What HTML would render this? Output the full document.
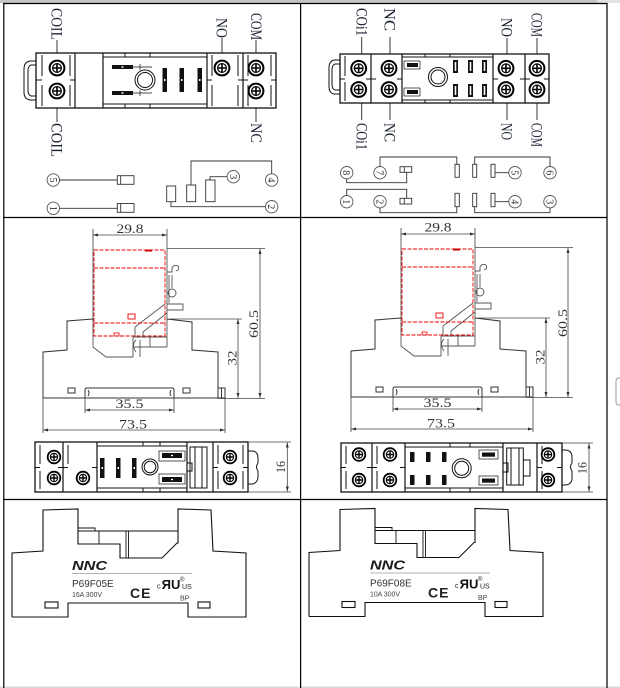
<!DOCTYPE html>
<html><head><meta charset="utf-8">
<style>
html,body{margin:0;padding:0;background:#fff;}
svg{display:block;}
text{font-family:"Liberation Serif",serif;}
.sn{font-family:"Liberation Sans",sans-serif;}
</style></head><body>
<svg width="620" height="688" viewBox="0 0 620 688" xmlns="http://www.w3.org/2000/svg">
<defs>
<marker id="ar" viewBox="0 0 10 6" refX="10" refY="3" markerWidth="7" markerHeight="3" orient="auto-start-reverse" markerUnits="userSpaceOnUse"><path d="M0 0L10 3L0 6z" fill="#333"/></marker>
<g id="s1"><circle r="7.4" fill="#fff" stroke="#000" stroke-width="2"/><circle r="4.4" fill="none" stroke="#000" stroke-width="1.2"/><path d="M-4 0H4M0 -4V4" stroke="#000" stroke-width="1.6"/></g>
<g id="s2"><circle r="6.3" fill="#fff" stroke="#000" stroke-width="1.8"/><circle r="3.7" fill="none" stroke="#000" stroke-width="1.1"/><path d="M-3.4 0H3.4M0 -3.4V3.4" stroke="#000" stroke-width="1.4"/></g>

<g id="sv" fill="none">
 <g stroke="#555" stroke-width="0.9">
  <path d="M93 229 V347 L106 357 H133"/>
  <path d="M167 229 V347"/>
  <path d="M133 337 H167 M150 337 V347 M133 347 H167 M133 337 V357"/>
  <path d="M167 272 H172 V268 Q174 264 178 266 Q180 270 176 271"/>
  <path d="M169 275 V303 M172 275 V288"/>
  <circle cx="172" cy="293" r="4"/>
  <path d="M167 304 H183 V310 H167"/>
  <path d="M135 327 L165 304 M143 332 L167 313 M135 327 V337 M143 332 V337"/>
  <path d="M136 340 Q131 345 136 352 M140 340 V357"/>
 </g>
 <g stroke="#e00" stroke-width="0.9" stroke-dasharray="4 1.5">
  <rect x="94" y="250" width="71" height="86"/>
  <path d="M94 268 H165 M94 323 H165"/>
 </g>
 <rect x="128" y="314" width="7" height="5" stroke="#e00" stroke-width="0.9"/>
 <rect x="114" y="333" width="5" height="3" stroke="#e00" stroke-width="0.8"/>
 <path d="M145 250.5 H152" stroke="#c00" stroke-width="2"/>
 <g stroke="#333" stroke-width="1">
  <path d="M93 319 L67 321 V350 L43 352 V398 H218 V352 L192 350 V322 L167 319"/>
  <path d="M85 398 V390 Q85 388 87 388 H172 Q174 388 174 390 V398"/>
  <path d="M88 390 Q90 393 88 396 M171 390 Q169 393 171 396"/>
  <rect x="68" y="388" width="7" height="5"/>
  <rect x="183" y="388" width="7" height="5"/>
  <path d="M218 388 H225 V398 H218 M221.5 388 V398"/>
 </g>
 <g stroke="#444" stroke-width="0.8">
  <path d="M93 235 H167" marker-start="url(#ar)" marker-end="url(#ar)"/>
  <path d="M167 248.5 H265"/>
  <path d="M260 249 V398" marker-start="url(#ar)" marker-end="url(#ar)"/>
  <path d="M170 319 H242"/>
  <path d="M238 319 V398" marker-start="url(#ar)" marker-end="url(#ar)"/>
  <path d="M218 398.5 H265"/>
  <path d="M85 398 V413 M174 398 V413"/>
  <path d="M85 410 H174" marker-start="url(#ar)" marker-end="url(#ar)"/>
  <path d="M43 398 V433 M225 398 V433"/>
  <path d="M43 430 H225" marker-start="url(#ar)" marker-end="url(#ar)"/>
 </g>
</g>

<g id="bs" fill="none" stroke="#111" stroke-width="1.1">
 <path d="M12 617 V553 L43 551 V510 L78 509 V544 H120 V558 H162 L177 543 H178 V509 L211 510 L213 551 L246 553 V617 H188 V603 H68 V617 H12"/>
 <path d="M78 528 H95 V531 M78 531 H178 M99 531 V544 M126 531 V558 M128.5 531 V558" stroke-width="0.9"/>
 <rect x="45" y="602" width="13" height="6"/>
 <rect x="198" y="602" width="12" height="6"/>
</g>
</defs>

<!-- frame -->
<rect x="0" y="0" width="620" height="3" fill="#c4c4c4"/>
<rect x="597" y="0" width="23" height="3" fill="#e2e2e2"/>
<rect x="0" y="686.5" width="620" height="1.5" fill="#d8d8d8"/>
<g stroke="#000" stroke-width="1.2">
 <path d="M3 3.5 H607.5"/>
 <path d="M3.8 3 V688 M300.6 3 V688 M607 3 V688"/>
 <path d="M3 217.5 H607.5 M3 499.5 H607.5"/>
</g>
<path d="M620 378 H619 Q616 378 616 381 V402 Q616 405 619 405 H620" stroke="#999" fill="none"/>

<!-- ===== TOP LEFT ===== -->
<g fill="#1c2233" font-size="16">
 <text transform="translate(51.5,8) rotate(90)" textLength="32" lengthAdjust="spacingAndGlyphs">COIL</text>
 <text transform="translate(216.5,18) rotate(90)" textLength="20" lengthAdjust="spacingAndGlyphs">NO</text>
 <text transform="translate(251,13) rotate(90)" textLength="27" lengthAdjust="spacingAndGlyphs">COM</text>
 <text transform="translate(51.5,123) rotate(90)" textLength="34" lengthAdjust="spacingAndGlyphs">COIL</text>
 <text transform="translate(251,123) rotate(90)" textLength="20" lengthAdjust="spacingAndGlyphs">NC</text>
</g>
<g stroke="#222" stroke-width="0.9">
 <path d="M57 40 V53 M222 38 V53 M256 40 V53 M57 108 V122 M256 108 V122"/>
</g>
<g fill="none" stroke="#111" stroke-width="1">
 <rect x="36" y="53" width="240" height="55" stroke-width="1.3"/>
 <path d="M36 61 H30 Q24 62 24 69 V92 Q24 99 30 100 H36 M36 65 H31 Q28 66 28 71 V90 Q28 95 31 96 H36"/>
 <path d="M75 53 V108 M103 53 V108 M207 53 V108 M243 53 V108" stroke-width="1.2"/>
 <path d="M42 55 V76 M42 85 V106 M70 55 V76 M70 85 V106 M36 80 H42 M70 80 H75"/>
 <path d="M212 55 V76 M212 85 V106 M238 55 V76 M238 85 V106 M207 80 H212 M238 80 H243"/>
 <path d="M248 55 V76 M248 85 V106 M271 55 V76 M271 85 V106 M243 80 H248 M271 80 H276"/>
 <path d="M103 57 H207 M103 104 H207 M125 53 V57 M150 53 V57 M125 104 V108 M150 104 V108"/>
 <circle cx="145" cy="80" r="10"/>
 <circle cx="145" cy="80" r="7.5"/>
 <path d="M133 67 H152 M133 93 H152 M140 64 V70 M140 90 V96" stroke-width="0.7"/>
</g>
<g fill="#111">
 <rect x="112" y="65" width="21" height="4"/>
 <rect x="112" y="91" width="21" height="4"/>
 <rect x="162.5" y="68" width="4.5" height="24"/>
 <rect x="179.5" y="68" width="4.5" height="24"/>
 <rect x="197.5" y="68" width="4.5" height="24"/>
</g>
<g fill="#fff">
 <rect x="121.5" y="66.3" width="2" height="1.4"/><rect x="121.5" y="92.3" width="2" height="1.4"/>
 <rect x="164" y="79" width="1.5" height="2"/><rect x="181" y="79" width="1.5" height="2"/><rect x="199" y="79" width="1.5" height="2"/>
</g>
<use href="#s1" x="57" y="68"/><use href="#s1" x="57" y="91"/>
<use href="#s1" x="222" y="68"/>
<use href="#s1" x="256" y="68"/><use href="#s1" x="256" y="91"/>

<!-- schematic TL -->
<g fill="none" stroke="#555" stroke-width="0.9">
 <circle cx="53.3" cy="180" r="6.2"/><circle cx="53.3" cy="208.3" r="6.2"/>
 <circle cx="233.3" cy="176.7" r="6.2"/><circle cx="271.7" cy="180" r="6.2"/><circle cx="271.7" cy="206.7" r="6.2"/>
</g>
<g fill="none" stroke="#333" stroke-width="0.9">
 <path d="M59.5 180 H117.3 M59.5 208.3 H117.3"/>
 <rect x="117.3" y="175.7" width="16.7" height="8.6"/><path d="M120.7 175.7 V184.3"/>
 <rect x="117.3" y="203.5" width="16.7" height="8.8"/><path d="M120.7 203.5 V212.3"/>
 <rect x="166.7" y="186" width="9" height="15.7"/>
 <rect x="186.7" y="185" width="9" height="16.7"/>
 <rect x="205.7" y="180" width="9.3" height="21.7"/>
 <path d="M271.7 173.8 V161 H191 V185"/>
 <path d="M227.1 176.7 H210 V180"/>
 <path d="M265.5 206.7 H171 V201.7"/>
</g>
<g fill="#333" font-size="10" text-anchor="middle">
 <text transform="translate(53.3,180) rotate(90)" y="3.5">5</text>
 <text transform="translate(53.3,208.3) rotate(90)" y="3.5">1</text>
 <text transform="translate(233.3,176.7) rotate(90)" y="3.5">3</text>
 <text transform="translate(271.7,180) rotate(90)" y="3.5">4</text>
 <text transform="translate(271.7,206.7) rotate(90)" y="3.5">2</text>
</g>

<!-- ===== TOP RIGHT ===== -->
<g fill="#1c2233" font-size="16">
 <text transform="translate(356.7,8) rotate(90)" textLength="28" lengthAdjust="spacingAndGlyphs">COi1</text>
 <text transform="translate(384.7,8) rotate(90)" textLength="23" lengthAdjust="spacingAndGlyphs">NC</text>
 <text transform="translate(501.7,18) rotate(90)" textLength="19" lengthAdjust="spacingAndGlyphs">NO</text>
 <text transform="translate(531.7,13) rotate(90)" textLength="24" lengthAdjust="spacingAndGlyphs">COM</text>
 <text transform="translate(356.7,123) rotate(90)" textLength="27" lengthAdjust="spacingAndGlyphs">COi1</text>
 <text transform="translate(384.7,123) rotate(90)" textLength="19" lengthAdjust="spacingAndGlyphs">NC</text>
 <text transform="translate(501.7,123) rotate(90)" textLength="17" lengthAdjust="spacingAndGlyphs">NO</text>
 <text transform="translate(531.7,123) rotate(90)" textLength="24" lengthAdjust="spacingAndGlyphs">COM</text>
</g>
<g stroke="#222" stroke-width="0.9">
 <path d="M361.7 37 V54 M390 37 V54 M507 38 V54 M537 38 V54 M361.7 103 V120 M390 103 V120 M507 103 V120 M537 103 V120"/>
</g>
<g fill="none" stroke="#111" stroke-width="1">
 <rect x="340" y="54" width="209" height="49" stroke-width="1.3"/>
 <path d="M340 60 H334 Q329 61 329 68 V86 Q329 93 334 94 H340 M340 64 H335 Q332 65 332 70 V84 Q332 89 335 90 H340"/>
 <path d="M371 54 V103 M402 54 V103 M493 54 V103 M525 54 V103" stroke-width="1.2"/>
 <path d="M345 56 V76 M345 82 V101 M340 79 H345 M366 79 H371 M376 79 H371 M397 79 H402 M498 79 H493 M520 79 H525 M530 79 H525 M544 79 H549"/>
 <path d="M402 57 H493 M402 100 H493 M425 54 V57 M450 54 V57 M425 100 V103 M450 100 V103"/>
 <circle cx="438" cy="77" r="9.5"/>
 <circle cx="438" cy="77" r="7"/>
 <rect x="404" y="61" width="16" height="8" stroke-width="0.7"/>
 <rect x="404" y="88" width="16" height="8" stroke-width="0.7"/>
</g>
<g fill="#111">
 <rect x="407" y="63" width="11" height="4"/>
 <rect x="407" y="90" width="11" height="4"/>
 <rect x="453" y="60" width="5" height="13"/><rect x="468" y="60" width="5" height="13"/><rect x="482" y="60" width="5" height="13"/>
 <rect x="453" y="84" width="5" height="13"/><rect x="468" y="84" width="5" height="13"/><rect x="482" y="84" width="5" height="13"/>
</g>
<g fill="#fff">
 <rect x="454.7" y="62" width="1.6" height="9"/><rect x="469.7" y="62" width="1.6" height="9"/><rect x="483.7" y="62" width="1.6" height="9"/>
 <rect x="454.7" y="86" width="1.6" height="9"/><rect x="469.7" y="86" width="1.6" height="9"/><rect x="483.7" y="86" width="1.6" height="9"/>
</g>
<use href="#s1" x="358.7" y="68.3"/><use href="#s1" x="358.7" y="89.5"/>
<use href="#s1" x="389" y="68.3"/><use href="#s1" x="389" y="89.5"/>
<use href="#s1" x="506" y="68.3"/><use href="#s1" x="506" y="89.5"/>
<use href="#s1" x="537" y="68.3"/><use href="#s1" x="537" y="89.5"/>

<!-- schematic TR -->
<g fill="none" stroke="#555" stroke-width="0.9">
 <circle cx="346.7" cy="172.7" r="6.2"/><circle cx="380" cy="172.7" r="6.2"/><circle cx="515" cy="172.7" r="6.2"/><circle cx="550" cy="172.7" r="6.2"/>
 <circle cx="346.7" cy="201.7" r="6.2"/><circle cx="380" cy="201.7" r="6.2"/><circle cx="515" cy="201.7" r="6.2"/><circle cx="550" cy="201.7" r="6.2"/>
</g>
<g fill="none" stroke="#333" stroke-width="0.9">
 <path d="M380 166.5 V157 H456.8 V164.3"/>
 <path d="M346.7 178.9 V182.7 H406.7 V172.3"/>
 <path d="M346.7 195.5 V189.3 H406.7 V198.3"/>
 <path d="M380 207.9 V212.7 H456.8 V206.7"/>
 <path d="M550 166.5 V157 H474.7 V164.3"/>
 <path d="M550 207.9 V212.7 H474.7 V206.7"/>
 <path d="M495 172.7 H508.8 M495 201.7 H508.8"/>
 <rect x="400" y="166.7" width="11.7" height="5.6"/><path d="M404.3 166.7 V172.3"/>
 <rect x="400" y="198.3" width="11.7" height="5.7"/><path d="M404.3 198.3 V204"/>
 <rect x="455" y="164.3" width="4.3" height="13"/><rect x="455" y="193.3" width="4.3" height="13.4"/>
 <rect x="472.7" y="164.3" width="4" height="13"/><rect x="472.7" y="193.3" width="4" height="13.4"/>
 <rect x="491" y="164.3" width="4" height="13"/><rect x="491" y="193.3" width="4" height="13.4"/>
</g>
<g fill="#333" font-size="10" text-anchor="middle">
 <text transform="translate(346.7,172.7) rotate(90)" y="3.5">8</text>
 <text transform="translate(380,172.7) rotate(90)" y="3.5">7</text>
 <text transform="translate(515,172.7) rotate(90)" y="3.5">5</text>
 <text transform="translate(550,172.7) rotate(90)" y="3.5">6</text>
 <text transform="translate(346.7,201.7) rotate(90)" y="3.5">1</text>
 <text transform="translate(380,201.7) rotate(90)" y="3.5">2</text>
 <text transform="translate(515,201.7) rotate(90)" y="3.5">4</text>
 <text transform="translate(550,201.7) rotate(90)" y="3.5">3</text>
</g>

<!-- ===== MIDDLE ===== -->
<use href="#sv"/>
<use href="#sv" transform="translate(308,-1)"/>
<g fill="#333" font-size="13" text-anchor="middle">
 <text x="130" y="233" textLength="27" lengthAdjust="spacingAndGlyphs">29.8</text>
 <text x="129.5" y="408" textLength="28" lengthAdjust="spacingAndGlyphs">35.5</text>
 <text x="133" y="428.5" textLength="28" lengthAdjust="spacingAndGlyphs">73.5</text>
 <text transform="translate(258,324) rotate(-90)" textLength="28" lengthAdjust="spacingAndGlyphs">60.5</text>
 <text transform="translate(236.5,358) rotate(-90)" textLength="15" lengthAdjust="spacingAndGlyphs">32</text>
 <text transform="translate(285,467) rotate(-90)" textLength="12" lengthAdjust="spacingAndGlyphs">16</text>

 <text x="438" y="231.5" textLength="27" lengthAdjust="spacingAndGlyphs">29.8</text>
 <text x="437.5" y="407" textLength="28" lengthAdjust="spacingAndGlyphs">35.5</text>
 <text x="441" y="427.5" textLength="28" lengthAdjust="spacingAndGlyphs">73.5</text>
 <text transform="translate(567,323) rotate(-90)" textLength="28" lengthAdjust="spacingAndGlyphs">60.5</text>
 <text transform="translate(544.5,357) rotate(-90)" textLength="15" lengthAdjust="spacingAndGlyphs">32</text>
 <text transform="translate(586.5,468) rotate(-90)" textLength="12" lengthAdjust="spacingAndGlyphs">16</text>
</g>

<!-- top view middle-left -->
<g fill="none" stroke="#111" stroke-width="1">
 <rect x="35" y="442" width="213" height="50" stroke-width="1.3"/>
 <path d="M63 442 V492 M97 442 V492 M187 442 V492 M213 442 V492" stroke-width="1.2"/>
 <path d="M40 445 V464 M40 471 V489 M35 467.5 H40 M58 467.5 H63 M68 445 V464 M63 467.5 H68 M92 467.5 H97 M218 445 V464 M218 471 V489 M213 467.5 H218 M243 445 V464 M243 471 V489 M243 467.5 H248"/>
 <path d="M97 446 H187 M97 488 H187 M143 442 V446 M160 442 V446 M143 488 V492 M160 488 V492"/>
 <circle cx="150" cy="467" r="8"/>
 <circle cx="150" cy="467" r="5.8"/>
 <rect x="190" y="447" width="17" height="41"/>
 <path d="M195 447 V488 M202 447 V488 M187 463 H192 V471 H187"/>
 <path d="M248 451 H253 Q258 452 258 458 V463 Q255 467 258 471 V477 Q258 482 253 484 H248"/>
 <rect x="159" y="451" width="26" height="10" stroke-width="0.7"/>
 <rect x="159" y="474" width="26" height="10" stroke-width="0.7"/>
</g>
<g fill="#111">
 <rect x="100" y="458" width="4.5" height="20"/><rect x="116" y="458" width="4.5" height="20"/><rect x="132" y="458" width="4.5" height="20"/>
 <rect x="162" y="453" width="20" height="5"/><rect x="162" y="477" width="20" height="5"/>
</g>
<g fill="#fff">
 <rect x="101.5" y="467" width="1.5" height="2"/><rect x="117.5" y="467" width="1.5" height="2"/><rect x="133.5" y="467" width="1.5" height="2"/>
 <rect x="171" y="454.8" width="2" height="1.4"/><rect x="171" y="478.8" width="2" height="1.4"/>
</g>
<use href="#s2" x="54" y="457"/><use href="#s2" x="54" y="478"/>
<use href="#s2" x="83" y="478"/>
<use href="#s2" x="230" y="457"/><use href="#s2" x="230" y="478"/>
<g stroke="#444" stroke-width="0.8" fill="none">
 <path d="M248 442 H291 M248 492 H291"/>
 <path d="M287.3 442.5 V491.5" marker-start="url(#ar)" marker-end="url(#ar)"/>
</g>

<!-- top view middle-right -->
<g fill="none" stroke="#111" stroke-width="1">
 <rect x="341" y="443" width="221" height="49" stroke-width="1.3"/>
 <path d="M372 443 V492 M405 443 V492 M503 443 V492 M537 443 V492" stroke-width="1.2"/>
 <path d="M346 446 V464 M346 471 V489 M341 467.5 H346 M367 467.5 H372 M377 446 V464 M377 471 V489 M372 467.5 H377 M400 467.5 H405 M542 446 V464 M542 471 V489 M537 467.5 H542 M557 467.5 H562"/>
 <path d="M405 447 H503 M405 488 H503 M450 443 V447 M470 443 V447 M450 488 V492 M470 488 V492"/>
 <circle cx="461.7" cy="468.3" r="9.5"/>
 <circle cx="461.7" cy="468.3" r="7"/>
 <rect x="506.7" y="448" width="16.6" height="37"/>
 <path d="M511 448 V485 M519 448 V485 M503 463 H508 V472 H503 M523 460 H530 V476 H523"/>
 <path d="M562 450 H566 Q572 451 572 457 V463 Q569 467 572 471 V478 Q572 484 566 485 H562"/>
 <rect x="479" y="450" width="19" height="9" stroke-width="0.7"/>
 <rect x="479" y="476" width="19" height="9" stroke-width="0.7"/>
</g>
<g fill="#111">
 <rect x="410" y="452" width="4.5" height="10"/><rect x="426" y="452" width="4.5" height="10"/><rect x="442" y="452" width="4.5" height="10"/>
 <rect x="410" y="475" width="4.5" height="10"/><rect x="426" y="475" width="4.5" height="10"/><rect x="442" y="475" width="4.5" height="10"/>
 <rect x="482" y="452.5" width="13" height="4.2"/><rect x="482" y="478.5" width="13" height="4.2"/>
</g>
<use href="#s2" x="359" y="454.5"/><use href="#s2" x="359" y="480"/>
<use href="#s2" x="390" y="454.5"/><use href="#s2" x="390" y="480"/>
<use href="#s2" x="548" y="454.5"/><use href="#s2" x="548" y="480"/>
<g stroke="#444" stroke-width="0.8" fill="none">
 <path d="M562 443 H593 M562 492 H593"/>
 <path d="M589 443.5 V491.5" marker-start="url(#ar)" marker-end="url(#ar)"/>
</g>

<!-- ===== BOTTOM ===== -->
<use href="#bs"/>
<use href="#bs" transform="translate(297,-0.5)"/>
<g class="sn">
 <text x="72" y="570" font-size="13" font-weight="bold" font-style="italic" fill="#1a1a1a" textLength="35" lengthAdjust="spacingAndGlyphs" style="font-family:'Liberation Sans',sans-serif">NNC</text>
 <path d="M72 573.5 H192" stroke="#999" stroke-width="0.8"/>
 <text x="72" y="587" font-size="10" fill="#333" style="font-family:'Liberation Sans',sans-serif">P69F05E</text>
 <text x="72" y="597" font-size="7" fill="#444" textLength="30" style="font-family:'Liberation Sans',sans-serif">16A 300V</text>
 <text x="130" y="598" font-size="14" font-weight="bold" fill="#222" letter-spacing="1" style="font-family:'Liberation Sans',sans-serif">CE</text>
 <text x="157" y="588.5" font-size="7" fill="#222" style="font-family:'Liberation Sans',sans-serif">c</text>
 <text transform="translate(171,589) scale(-1,1)" font-size="13" font-weight="bold" fill="#111" style="font-family:'Liberation Sans',sans-serif">R</text>
 <text x="171" y="589" font-size="13" font-weight="bold" fill="#111" style="font-family:'Liberation Sans',sans-serif">U</text>
 <text x="180" y="581.5" font-size="6" fill="#222" style="font-family:'Liberation Sans',sans-serif">®</text>
 <text x="182" y="589" font-size="7" fill="#222" style="font-family:'Liberation Sans',sans-serif">US</text>
 <text x="180" y="600.5" font-size="7" fill="#444" style="font-family:'Liberation Sans',sans-serif">BP</text>

 <text x="370" y="569.5" font-size="13" font-weight="bold" font-style="italic" fill="#1a1a1a" textLength="35" lengthAdjust="spacingAndGlyphs" style="font-family:'Liberation Sans',sans-serif">NNC</text>
 <path d="M370 573 H490" stroke="#999" stroke-width="0.8"/>
 <text x="370" y="586.5" font-size="10" fill="#333" style="font-family:'Liberation Sans',sans-serif">P69F08E</text>
 <text x="370" y="596.5" font-size="7" fill="#444" textLength="30" style="font-family:'Liberation Sans',sans-serif">10A 300V</text>
 <text x="428" y="597.5" font-size="14" font-weight="bold" fill="#222" letter-spacing="1" style="font-family:'Liberation Sans',sans-serif">CE</text>
 <text x="455" y="588" font-size="7" fill="#222" style="font-family:'Liberation Sans',sans-serif">c</text>
 <text transform="translate(469,588.5) scale(-1,1)" font-size="13" font-weight="bold" fill="#111" style="font-family:'Liberation Sans',sans-serif">R</text>
 <text x="469" y="588.5" font-size="13" font-weight="bold" fill="#111" style="font-family:'Liberation Sans',sans-serif">U</text>
 <text x="478" y="581" font-size="6" fill="#222" style="font-family:'Liberation Sans',sans-serif">®</text>
 <text x="480" y="588.5" font-size="7" fill="#222" style="font-family:'Liberation Sans',sans-serif">US</text>
 <text x="478" y="600" font-size="7" fill="#444" style="font-family:'Liberation Sans',sans-serif">BP</text>
</g>
</svg>
</body></html>
